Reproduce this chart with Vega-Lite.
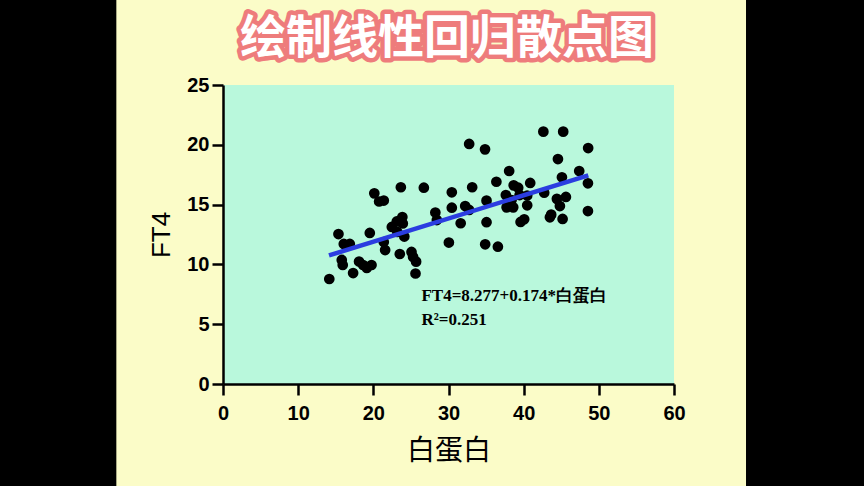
{
  "$schema": "https://vega.github.io/schema/vega-lite/v6.json",
  "autosize": "none",
  "width": 451,
  "height": 299,
  "padding": {"left": 223, "top": 85, "right": 190, "bottom": 102},
  "background": "#fbfcc8",
  "config": {
    "view": {"fill": "#b9f8dc", "stroke": null},
    "axis": {"grid": false, "domainColor": "black", "domainWidth": 2.5, "tickColor": "black", "tickWidth": 2.5,
      "labelFont": "Liberation Sans", "labelFontWeight": "bold", "labelFontSize": 20, "labelColor": "black",
      "titleFont": "Liberation Sans", "titleFontWeight": "normal", "titleColor": "black"}
  },
  "datasets": {
    "points": [
      {"albumin": 14.14, "FT4": 8.78}, {"albumin": 15.80, "FT4": 10.37}, {"albumin": 15.93, "FT4": 9.95},
      {"albumin": 15.36, "FT4": 12.54}, {"albumin": 16.07, "FT4": 11.71}, {"albumin": 16.87, "FT4": 11.71},
      {"albumin": 17.31, "FT4": 9.28}, {"albumin": 18.10, "FT4": 10.24}, {"albumin": 18.64, "FT4": 9.95},
      {"albumin": 19.13, "FT4": 9.70}, {"albumin": 19.76, "FT4": 9.95}, {"albumin": 19.53, "FT4": 12.63},
      {"albumin": 20.13, "FT4": 15.94}, {"albumin": 20.77, "FT4": 15.26}, {"albumin": 21.39, "FT4": 15.34},
      {"albumin": 21.39, "FT4": 11.87}, {"albumin": 21.57, "FT4": 11.20}, {"albumin": 23.52, "FT4": 10.87},
      {"albumin": 23.66, "FT4": 16.45}, {"albumin": 22.46, "FT4": 13.13}, {"albumin": 23.12, "FT4": 13.59},
      {"albumin": 23.86, "FT4": 13.96}, {"albumin": 23.92, "FT4": 13.42}, {"albumin": 23.19, "FT4": 12.71},
      {"albumin": 24.12, "FT4": 12.33}, {"albumin": 25.08, "FT4": 11.04}, {"albumin": 25.29, "FT4": 10.62},
      {"albumin": 25.69, "FT4": 10.23}, {"albumin": 25.61, "FT4": 9.24}, {"albumin": 26.72, "FT4": 16.41},
      {"albumin": 28.25, "FT4": 14.34}, {"albumin": 28.45, "FT4": 13.71}, {"albumin": 30.05, "FT4": 11.83},
      {"albumin": 30.44, "FT4": 16.03}, {"albumin": 30.44, "FT4": 14.74}, {"albumin": 31.62, "FT4": 13.44},
      {"albumin": 32.22, "FT4": 14.88}, {"albumin": 32.75, "FT4": 14.55}, {"albumin": 32.75, "FT4": 20.07},
      {"albumin": 33.15, "FT4": 16.45}, {"albumin": 34.86, "FT4": 19.62}, {"albumin": 35.06, "FT4": 15.33},
      {"albumin": 35.06, "FT4": 13.53}, {"albumin": 34.88, "FT4": 11.68}, {"albumin": 36.57, "FT4": 11.48},
      {"albumin": 36.37, "FT4": 16.91}, {"albumin": 38.07, "FT4": 17.81}, {"albumin": 38.67, "FT4": 16.61},
      {"albumin": 39.27, "FT4": 16.41}, {"albumin": 37.63, "FT4": 15.80}, {"albumin": 37.94, "FT4": 15.38},
      {"albumin": 38.39, "FT4": 15.38}, {"albumin": 37.73, "FT4": 14.77}, {"albumin": 38.61, "FT4": 14.77},
      {"albumin": 39.46, "FT4": 15.80}, {"albumin": 40.47, "FT4": 15.76}, {"albumin": 40.47, "FT4": 14.94},
      {"albumin": 40.87, "FT4": 16.81}, {"albumin": 39.59, "FT4": 13.55}, {"albumin": 40.07, "FT4": 13.77},
      {"albumin": 42.62, "FT4": 21.10}, {"albumin": 42.73, "FT4": 15.99}, {"albumin": 43.49, "FT4": 13.94},
      {"albumin": 43.66, "FT4": 14.16}, {"albumin": 44.42, "FT4": 15.48}, {"albumin": 45.62, "FT4": 15.64},
      {"albumin": 44.82, "FT4": 14.88}, {"albumin": 44.56, "FT4": 18.81}, {"albumin": 45.09, "FT4": 17.28},
      {"albumin": 45.18, "FT4": 13.80}, {"albumin": 45.26, "FT4": 21.10}, {"albumin": 47.39, "FT4": 17.81},
      {"albumin": 48.58, "FT4": 19.73}, {"albumin": 48.55, "FT4": 16.78}, {"albumin": 48.55, "FT4": 14.46}
    ],
    "fit": [
      {"albumin": 14.1, "FT4": 10.75},
      {"albumin": 48.6, "FT4": 17.45}
    ]
  },
  "layer": [
    {
      "data": {"values": [{}]},
      "mark": {"type": "rect", "color": "black", "clip": false},
      "encoding": {
        "x": {"datum": -31, "type": "quantitative", "scale": {"domain": [0, 60], "nice": false}},
        "x2": {"datum": -14.19},
        "y": {"datum": -10, "type": "quantitative", "scale": {"domain": [0, 25], "nice": false}},
        "y2": {"datum": 34}
      }
    },
    {
      "data": {"values": [{}]},
      "mark": {"type": "rect", "color": "black", "clip": false},
      "encoding": {
        "x": {"datum": 69.58, "type": "quantitative"},
        "x2": {"datum": 88},
        "y": {"datum": -10, "type": "quantitative"},
        "y2": {"datum": 34}
      }
    },
    {
      "data": {"name": "points"},
      "mark": {"type": "circle", "color": "black", "opacity": 1, "size": 115},
      "encoding": {
        "x": {"field": "albumin", "type": "quantitative", "title": "白蛋白",
          "scale": {"domain": [0, 60], "nice": false},
          "axis": {"values": [0, 5, 10, 15, 20, 25, 30, 35, 40, 45, 50, 55, 60],
            "labelExpr": "datum.value % 10 === 0 ? datum.label : ''",
            "tickSize": {"condition": {"test": "datum.value % 10 === 0", "value": 11}, "value": 6},
            "labelPadding": 8, "labelFlush": false, "labelOverlap": false,
            "titleFont": "Noto Sans CJK SC", "titleFontSize": 28, "titlePadding": 14}},
        "y": {"field": "FT4", "type": "quantitative", "title": "FT4",
          "scale": {"domain": [0, 25], "nice": false},
          "axis": {"values": [0, 5, 10, 15, 20, 25], "tickSize": 11, "labelPadding": 3,
            "titleFontSize": 26, "titlePadding": 12}}
      }
    },
    {
      "data": {"name": "fit"},
      "mark": {"type": "line", "color": "#2b3de0", "strokeWidth": 4.5},
      "encoding": {
        "x": {"field": "albumin", "type": "quantitative"},
        "y": {"field": "FT4", "type": "quantitative"}
      }
    },
    {
      "data": {"values": [{"t": "FT4=8.277+0.174*白蛋白"}]},
      "mark": {"type": "text", "align": "left", "baseline": "middle", "font": "Liberation Serif", "fontWeight": "bold", "fontSize": 17, "color": "black"},
      "encoding": {
        "x": {"datum": 26.4, "type": "quantitative"},
        "y": {"datum": 7.35, "type": "quantitative"},
        "text": {"field": "t"}
      }
    },
    {
      "data": {"values": [{"t": "R²=0.251"}]},
      "mark": {"type": "text", "align": "left", "baseline": "middle", "font": "Liberation Serif", "fontWeight": "bold", "fontSize": 17, "color": "black"},
      "encoding": {
        "x": {"datum": 26.4, "type": "quantitative"},
        "y": {"datum": 5.35, "type": "quantitative"},
        "text": {"field": "t"}
      }
    },
    {
      "data": {"values": [{"t": "绘制线性回归散点图"}]},
      "mark": {"type": "text", "align": "center", "baseline": "middle", "font": "Noto Sans CJK SC", "fontWeight": "bold", "fontSize": 46, "fill": "#ee7c7c", "stroke": "#ee7c7c", "strokeWidth": 9, "strokeJoin": "round", "clip": false},
      "encoding": {
        "x": {"datum": 29.8, "type": "quantitative"},
        "y": {"datum": 28.83, "type": "quantitative"},
        "text": {"field": "t"}
      }
    },
    {
      "data": {"values": [{"t": "绘制线性回归散点图"}]},
      "mark": {"type": "text", "align": "center", "baseline": "middle", "font": "Noto Sans CJK SC", "fontWeight": "bold", "fontSize": 46, "fill": "white", "clip": false},
      "encoding": {
        "x": {"datum": 29.8, "type": "quantitative"},
        "y": {"datum": 28.83, "type": "quantitative"},
        "text": {"field": "t"}
      }
    }
  ]
}
